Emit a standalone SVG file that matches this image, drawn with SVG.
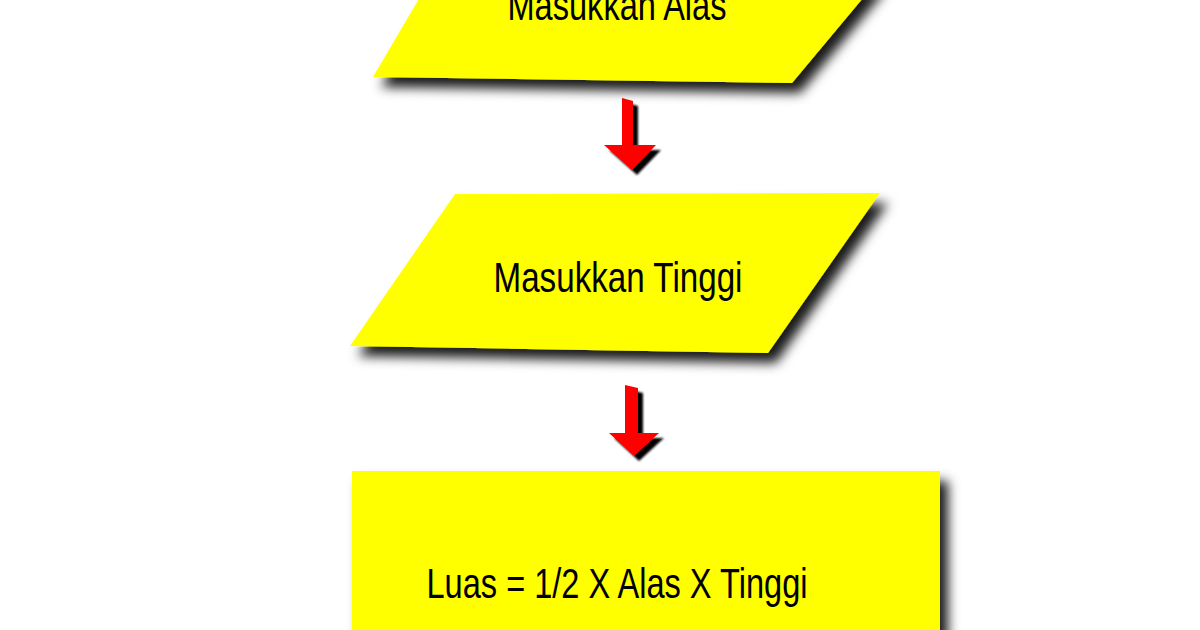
<svg xmlns="http://www.w3.org/2000/svg" width="1200" height="630" viewBox="0 0 1200 630">
<defs>
<filter id="shadow" x="-10%" y="-20%" width="130%" height="150%">
<feDropShadow dx="8" dy="10" stdDeviation="6" flood-color="#000" flood-opacity="0.9"/>
</filter>
<filter id="ashadow" x="-30%" y="-30%" width="160%" height="160%">
<feDropShadow dx="5" dy="5" stdDeviation="1" flood-color="#000" flood-opacity="1"/>
</filter>
</defs>
<style>
.box{fill:#ffff00;filter:url(#shadow);}
.lbl{font-family:"Liberation Sans","DejaVu Sans Condensed",sans-serif;font-size:43px;fill:#000;text-anchor:middle;}
.arr{fill:#ff0000;filter:url(#ashadow);}
</style>
<rect width="1200" height="630" fill="#ffffff"/>
<g id="connectors">
<polygon class="arr" points="622,98 633,101 633,145 656,145 632,170 604,145 622,145"/>
<polygon class="arr" points="625,385 638,388 638,433 659,433 634,456 609,433 625,433"/>
</g>
<g id="node-alas">
<polygon class="box" points="430,-20 878,-20 792,83 373,77"/>
<text class="lbl" x="617" y="20" textLength="219" lengthAdjust="spacingAndGlyphs">Masukkan Alas</text>
</g>
<g id="node-tinggi">
<polygon class="box" points="455,194 880,193 768,353 350,346"/>
<text class="lbl" x="618" y="292" textLength="249" lengthAdjust="spacingAndGlyphs">Masukkan Tinggi</text>
</g>
<g id="node-luas">
<rect class="box" x="352" y="471" width="588" height="200"/>
<text class="lbl" x="617" y="598" textLength="381" lengthAdjust="spacingAndGlyphs">Luas = 1/2 X Alas X Tinggi</text>
</g>
</svg>
